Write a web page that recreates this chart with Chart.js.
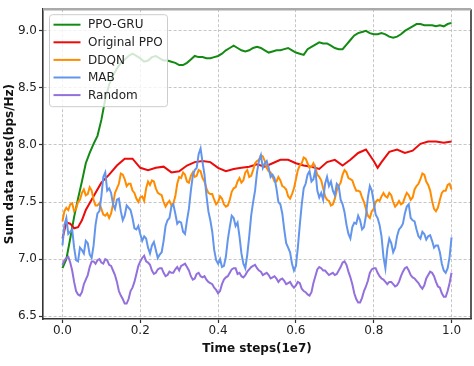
<!DOCTYPE html>
<html>
<head>
<meta charset="utf-8">
<script src="https://cdn.jsdelivr.net/npm/chart.js@4.4.1/dist/chart.umd.min.js"></script>
<style>
  html, body { margin: 0; padding: 0; background: #fff; }
  #wrap { width: 474px; height: 366px; }
</style>
</head>
<body>
<div id="wrap"><canvas id="rateChart" width="474" height="366"></canvas></div>
<script>
// time steps (1e7), shared by the noisy curves
const steps = [0.00,0.01,0.02,0.03,0.04,0.05,0.06,0.07,0.08,0.09,
  0.10,0.11,0.12,0.13,0.14,0.15,0.16,0.17,0.18,0.19,
  0.20,0.21,0.22,0.23,0.24,0.25,0.26,0.27,0.28,0.29,
  0.30,0.31,0.32,0.33,0.34,0.35,0.36,0.37,0.38,0.39,
  0.40,0.41,0.42,0.43,0.44,0.45,0.46,0.47,0.48,0.49,
  0.50,0.51,0.52,0.53,0.54,0.55,0.56,0.57,0.58,0.59,
  0.60,0.61,0.62,0.63,0.64,0.65,0.66,0.67,0.68,0.69,
  0.70,0.71,0.72,0.73,0.74,0.75,0.76,0.77,0.78,0.79,
  0.80,0.81,0.82,0.83,0.84,0.85,0.86,0.87,0.88,0.89,
  0.90,0.91,0.92,0.93,0.94,0.95,0.96,0.97,0.98,0.99,1.00];
// in-between steps, where the extra noisy readings sit
const halfSteps = [0.005,0.015,0.025,0.035,0.045,0.055,0.065,0.075,0.085,0.095,
  0.105,0.115,0.125,0.135,0.145,0.155,0.165,0.175,0.185,0.195,
  0.205,0.215,0.225,0.235,0.245,0.255,0.265,0.275,0.285,0.295,
  0.305,0.315,0.325,0.335,0.345,0.355,0.365,0.375,0.385,0.395,
  0.405,0.415,0.425,0.435,0.445,0.455,0.465,0.475,0.485,0.495,
  0.505,0.515,0.525,0.535,0.545,0.555,0.565,0.575,0.585,0.595,
  0.605,0.615,0.625,0.635,0.645,0.655,0.665,0.675,0.685,0.695,
  0.705,0.715,0.725,0.735,0.745,0.755,0.765,0.775,0.785,0.795,
  0.805,0.815,0.825,0.835,0.845,0.855,0.865,0.875,0.885,0.895,
  0.905,0.915,0.925,0.935,0.945,0.955,0.965,0.975,0.985,0.995];

const ppoGru = [6.92,7.00,7.18,7.37,7.53,7.68,7.84,7.93,8.01,8.08,
  8.22,8.40,8.53,8.61,8.67,8.72,8.75,8.78,8.80,8.78,
  8.76,8.73,8.74,8.77,8.78,8.76,8.74,8.74,8.73,8.72,
  8.70,8.70,8.72,8.75,8.78,8.77,8.77,8.76,8.76,8.77,
  8.78,8.80,8.83,8.85,8.87,8.85,8.83,8.82,8.83,8.85,
  8.86,8.85,8.83,8.81,8.82,8.83,8.83,8.84,8.85,8.83,
  8.81,8.80,8.79,8.84,8.86,8.88,8.90,8.89,8.89,8.87,
  8.85,8.84,8.84,8.88,8.92,8.96,8.98,8.99,9.00,8.98,
  8.97,8.97,8.98,8.97,8.95,8.94,8.95,8.97,9.00,9.02,
  9.04,9.06,9.06,9.05,9.05,9.05,9.04,9.05,9.04,9.06,9.07];

// original PPO is smooth, read at coarser steps
const ppoSteps = [0.00,0.01,0.02,0.03,0.04,0.05,0.06,0.08,0.10,0.12,0.14,0.16,0.18,
  0.20,0.22,0.24,0.26,0.28,0.30,0.32,0.34,0.36,0.38,0.40,0.42,0.44,0.46,0.48,
  0.50,0.52,0.54,0.56,0.58,0.60,0.62,0.64,0.66,0.68,0.70,0.72,0.74,0.76,0.78,
  0.80,0.81,0.82,0.84,0.86,0.88,0.90,0.92,0.94,0.96,0.98,1.00];
const originalPpo = [7.18,7.32,7.31,7.27,7.28,7.34,7.43,7.55,7.67,7.74,7.82,7.88,7.88,
  7.80,7.78,7.80,7.81,7.76,7.77,7.82,7.85,7.86,7.85,7.80,7.77,7.79,7.80,7.81,
  7.83,7.81,7.84,7.87,7.87,7.84,7.82,7.81,7.79,7.85,7.87,7.82,7.87,7.93,7.96,
  7.86,7.80,7.85,7.94,7.96,7.93,7.95,8.01,8.03,8.03,8.02,8.03];

const ddqn = [7.33,7.45,7.48,7.42,7.50,7.58,7.56,7.63,7.52,7.47,
  7.44,7.38,7.36,7.48,7.62,7.75,7.70,7.66,7.60,7.53,
  7.54,7.51,7.68,7.69,7.62,7.57,7.50,7.49,7.47,7.55,
  7.72,7.76,7.68,7.73,7.72,7.78,7.71,7.62,7.57,7.52,
  7.50,7.53,7.46,7.52,7.62,7.68,7.67,7.76,7.72,7.78,
  7.86,7.91,7.86,7.77,7.72,7.68,7.69,7.63,7.55,7.57,
  7.70,7.82,7.89,7.84,7.81,7.80,7.72,7.62,7.52,7.47,
  7.53,7.64,7.74,7.76,7.70,7.64,7.60,7.54,7.44,7.36,
  7.44,7.52,7.55,7.55,7.58,7.50,7.48,7.48,7.54,7.56,
  7.54,7.64,7.70,7.74,7.65,7.51,7.42,7.52,7.60,7.65,7.61];
const ddqnHalf = [7.42,7.43,7.49,7.44,7.52,7.61,7.57,7.60,7.47,7.49,
  7.39,7.40,7.40,7.58,7.66,7.74,7.64,7.66,7.58,7.50,
  7.55,7.62,7.65,7.68,7.58,7.56,7.46,7.51,7.49,7.66,
  7.71,7.74,7.67,7.76,7.73,7.77,7.68,7.58,7.57,7.48,
  7.55,7.48,7.47,7.59,7.63,7.71,7.69,7.78,7.73,7.84,
  7.87,7.90,7.80,7.76,7.68,7.72,7.64,7.61,7.53,7.62,
  7.78,7.84,7.88,7.80,7.84,7.74,7.69,7.55,7.51,7.48,
  7.60,7.67,7.78,7.71,7.69,7.60,7.59,7.50,7.38,7.42,
  7.50,7.51,7.58,7.54,7.56,7.46,7.51,7.49,7.58,7.52,
  7.61,7.66,7.75,7.68,7.60,7.44,7.45,7.58,7.60,7.66];

const mab = [7.12,7.36,7.24,7.10,6.98,7.08,7.16,7.04,7.12,7.40,
  7.55,7.76,7.62,7.48,7.52,7.42,7.38,7.45,7.36,7.26,
  7.22,7.20,7.10,7.12,7.08,7.04,7.16,7.34,7.46,7.40,
  7.33,7.24,7.34,7.60,7.78,7.92,7.85,7.56,7.34,7.08,
  6.96,6.93,7.02,7.28,7.36,7.32,7.05,6.92,7.20,7.50,
  7.76,7.91,7.84,7.80,7.74,7.62,7.48,7.26,7.10,6.96,
  6.94,7.30,7.62,7.74,7.68,7.78,7.54,7.52,7.72,7.68,
  7.56,7.64,7.48,7.30,7.18,7.32,7.38,7.26,7.38,7.64,
  7.50,7.36,7.20,6.92,7.18,7.06,7.20,7.28,7.40,7.48,
  7.34,7.26,7.18,7.22,7.20,7.16,7.12,7.06,6.90,6.92,7.19];
const mabHalf = [7.30,7.22,7.26,6.99,7.10,7.05,7.14,7.01,7.30,7.42,
  7.72,7.60,7.58,7.44,7.53,7.34,7.47,7.43,7.27,7.29,
  7.16,7.18,7.05,7.15,7.01,7.06,7.29,7.36,7.48,7.31,
  7.32,7.22,7.44,7.73,7.80,7.97,7.74,7.42,7.24,6.99,
  7.00,6.94,7.17,7.38,7.29,7.20,6.96,7.04,7.38,7.60,
  7.86,7.80,7.86,7.72,7.71,7.50,7.40,7.14,7.06,6.90,
  7.10,7.48,7.66,7.77,7.70,7.60,7.58,7.66,7.64,7.60,
  7.66,7.52,7.41,7.22,7.28,7.31,7.34,7.28,7.54,7.60,
  7.39,7.30,7.02,7.09,7.14,7.10,7.26,7.31,7.46,7.36,
  7.33,7.20,7.24,7.17,7.21,7.10,7.12,6.96,6.88,7.02];

const random = [6.95,7.01,6.97,6.80,6.69,6.71,6.82,6.93,6.98,6.99,
  6.97,7.00,6.95,6.90,6.80,6.68,6.61,6.65,6.75,6.87,
  6.98,7.03,6.97,6.90,6.88,6.92,6.88,6.86,6.88,6.91,
  6.90,6.95,6.93,6.85,6.83,6.88,6.84,6.82,6.79,6.75,
  6.70,6.78,6.84,6.88,6.92,6.87,6.85,6.86,6.91,6.94,
  6.92,6.89,6.87,6.86,6.84,6.83,6.82,6.81,6.79,6.77,
  6.77,6.79,6.72,6.69,6.71,6.85,6.93,6.90,6.88,6.87,
  6.86,6.90,6.97,6.95,6.84,6.70,6.62,6.66,6.76,6.88,
  6.92,6.88,6.83,6.80,6.80,6.78,6.77,6.85,6.92,6.90,
  6.84,6.81,6.76,6.77,6.86,6.88,6.80,6.75,6.67,6.72,6.88];
const randomHalf = [6.99,7.02,6.90,6.72,6.68,6.78,6.86,6.98,6.96,7.00,
  6.96,6.99,6.94,6.86,6.72,6.65,6.61,6.72,6.80,6.94,
  7.01,6.98,6.95,6.87,6.91,6.92,6.85,6.89,6.88,6.93,
  6.94,6.96,6.90,6.82,6.87,6.85,6.85,6.80,6.78,6.73,
  6.72,6.82,6.85,6.91,6.92,6.88,6.84,6.89,6.93,6.95,
  6.90,6.86,6.88,6.83,6.85,6.80,6.83,6.78,6.80,6.75,
  6.80,6.74,6.71,6.68,6.79,6.91,6.92,6.90,6.86,6.88,
  6.87,6.93,6.98,6.89,6.78,6.65,6.62,6.72,6.81,6.91,
  6.92,6.85,6.82,6.78,6.80,6.76,6.80,6.89,6.93,6.86,
  6.83,6.79,6.74,6.83,6.89,6.85,6.76,6.70,6.67,6.79];

const xTicks = [0.0, 0.2, 0.4, 0.6, 0.8, 1.0];
const yTicks = [6.5, 7.0, 7.5, 8.0, 8.5, 9.0];

function pts(xs, ys) {
  return ys.map((y, i) => ({ x: xs[i], y: y }));
}
// main readings plus the in-between ones, in x order
function merged(xs, ys, hx, hy) {
  const out = [];
  ys.forEach((y, i) => {
    out.push({ x: xs[i], y: y });
    if (i < hy.length) out.push({ x: hx[i], y: hy[i] });
  });
  return out;
}

const FONT = "'DejaVu Sans', sans-serif";

// matplotlib-like legend drawn over the lines, plus the top/right spines
const framePlugin = {
  id: 'frame',
  afterDatasetsDraw(chart) {
    const { ctx, chartArea: a } = chart;
    ctx.save();
    ctx.strokeStyle = '#333';
    ctx.lineWidth = 1.6;
    ctx.beginPath();
    ctx.moveTo(a.right, a.top);
    ctx.lineTo(a.right, a.bottom);
    ctx.stroke();
    ctx.strokeStyle = '#aaa';
    ctx.lineWidth = 2.5;
    ctx.beginPath();
    ctx.moveTo(a.left, a.top);
    ctx.lineTo(a.right, a.top);
    ctx.stroke();

    // legend
    const bx = a.left + 6, by = a.top + 5, bw = 118, bh = 92;
    ctx.fillStyle = 'rgba(255,255,255,0.8)';
    ctx.strokeStyle = '#cccccc';
    ctx.lineWidth = 1;
    ctx.beginPath();
    ctx.roundRect(bx + 0.5, by + 0.5, bw, bh, 3);
    ctx.fill();
    ctx.stroke();
    ctx.font = '12px ' + FONT;
    ctx.textBaseline = 'middle';
    ctx.textAlign = 'left';
    chart.data.datasets.forEach((ds, i) => {
      const y = by + 10.5 + i * 17.6;
      ctx.strokeStyle = ds.borderColor;
      ctx.lineWidth = 2;
      ctx.beginPath();
      ctx.moveTo(bx + 4.5, y);
      ctx.lineTo(bx + 31.5, y);
      ctx.stroke();
      ctx.fillStyle = '#222';
      ctx.fillText(ds.label, bx + 39, y + 0.5);
    });
    ctx.restore();
  }
};

const ctx = document.getElementById('rateChart').getContext('2d');
const rateChart = new Chart(ctx, {
  type: 'line',
  data: {
    datasets: [
      { label: 'PPO-GRU', data: pts(steps, ppoGru), borderColor: '#138a13', order: 5 },
      { label: 'Original PPO', data: pts(ppoSteps, originalPpo), borderColor: '#ec0a0a', order: 4 },
      { label: 'DDQN', data: merged(steps, ddqn, halfSteps, ddqnHalf), borderColor: '#ff8c00', order: 3 },
      { label: 'MAB', data: merged(steps, mab, halfSteps, mabHalf), borderColor: '#6495ed', order: 2 },
      { label: 'Random', data: merged(steps, random, halfSteps, randomHalf), borderColor: '#9370db', order: 1 }
    ]
  },
  options: {
    responsive: false,
    animation: false,
    events: [],
    layout: { padding: { top: 1, right: 3, left: 0, bottom: 0 } },
    elements: {
      line: { borderWidth: 2, tension: 0, fill: false },
      point: { radius: 0 }
    },
    plugins: {
      legend: { display: false },
      tooltip: { enabled: false }
    },
    scales: {
      x: {
        type: 'linear',
        min: -0.05,
        max: 1.05,
        afterBuildTicks: s => { s.ticks = xTicks.map(v => ({ value: v })); },
        afterFit: s => { s.height = 47; },
        ticks: {
          callback: v => v.toFixed(1),
          font: { family: FONT, size: 12 },
          color: '#222',
          padding: 1,
          maxRotation: 0
        },
        grid: { color: '#b8b8b8', lineWidth: 0.8, tickLength: 4, tickColor: '#333', tickWidth: 1.2 },
        border: { display: true, color: '#333', width: 1.6, dash: [3, 2] },
        title: {
          display: true,
          text: 'Time steps(1e7)',
          font: { family: FONT, size: 12, weight: 'bold' },
          color: '#111',
          padding: { top: 0, bottom: 10 }
        }
      },
      y: {
        type: 'linear',
        min: 6.475,
        max: 9.19,
        afterBuildTicks: s => { s.ticks = yTicks.map(v => ({ value: v })); },
        afterFit: s => { s.width = 43; },
        ticks: {
          callback: v => v.toFixed(1),
          font: { family: FONT, size: 12 },
          color: '#222',
          padding: 2
        },
        grid: { color: '#b8b8b8', lineWidth: 0.8, tickLength: 4, tickColor: '#333', tickWidth: 1.2 },
        border: { display: true, color: '#333', width: 1.6, dash: [3, 2] },
        title: {
          display: true,
          text: 'Sum data rates(bps/Hz)',
          font: { family: FONT, size: 12, weight: 'bold' },
          color: '#111',
          padding: { top: 3, bottom: 0 }
        }
      }
    }
  },
  plugins: [framePlugin]
});
</script>
</body>
</html>
